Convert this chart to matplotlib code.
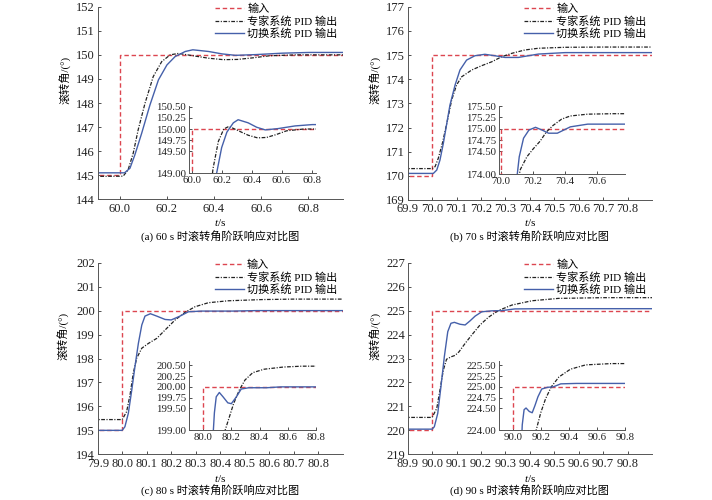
import matplotlib
matplotlib.use("Agg")
import matplotlib.pyplot as plt

plt.rcParams['font.family'] = ['Liberation Serif', 'Noto Sans CJK SC']
plt.rcParams['mathtext.fontset'] = 'custom'
plt.rcParams['mathtext.rm'] = 'Liberation Serif'
plt.rcParams['mathtext.it'] = 'Liberation Serif:italic'
plt.rcParams['axes.unicode_minus'] = False

# ---- data ----
# (a) 60 s
t_in_a = [59.85, 60.0, 60.0, 61.0]
y_in_a = [145.0, 145.0, 150.0, 150.0]
t_ex_a = [59.85, 60.014, 60.035, 60.057, 60.078, 60.107, 60.142, 60.178, 60.214, 60.249,
          60.306, 60.377, 60.44, 60.50, 60.56, 60.634, 60.748, 61.0]
y_ex_a = [144.95, 144.96, 145.22, 145.92, 146.89, 147.99, 149.10, 149.72, 150.0, 150.06,
          149.97, 149.86, 149.80, 149.81, 149.87, 149.96, 150.0, 150.0]
t_sw_a = [59.85, 60.02, 60.043, 60.064, 60.093, 60.128, 60.164, 60.20, 60.235, 60.278,
          60.31, 60.377, 60.434, 60.491, 60.577, 60.69, 60.805, 61.0]
y_sw_a = [145.1, 145.1, 145.29, 145.85, 146.75, 147.92, 148.96, 149.58, 149.93, 150.14,
          150.21, 150.14, 150.04, 149.98, 150.01, 150.07, 150.1, 150.1]

# (b) 70 s
t_in_b = [69.85, 70.0, 70.0, 71.0]
y_in_b = [170.0, 170.0, 175.0, 175.0]
t_ex_b = [69.85, 70.0, 70.012, 70.025, 70.042, 70.06, 70.08, 70.10, 70.121, 70.162,
          70.203, 70.244, 70.285, 70.326, 70.38, 70.435, 70.544, 70.70, 71.0]
y_ex_b = [170.3, 170.3, 170.38, 170.72, 171.35, 172.17, 173.14, 173.76, 174.10, 174.38,
          174.56, 174.72, 174.93, 175.07, 175.21, 175.28, 175.32, 175.33, 175.33]
t_sw_b = [69.85, 70.005, 70.019, 70.032, 70.046, 70.06, 70.073, 70.094, 70.114, 70.141,
          70.175, 70.216, 70.257, 70.298, 70.353, 70.435, 70.544, 71.0]
y_sw_b = [170.1, 170.1, 170.24, 170.65, 171.35, 172.17, 172.93, 173.76, 174.38, 174.79,
          174.97, 175.03, 174.97, 174.90, 174.90, 175.04, 175.1, 175.1]

# (c) 80 s
t_in_c = [79.85, 80.0, 80.0, 81.0]
y_in_c = [195.0, 195.0, 200.0, 200.0]
t_ex_c = [79.85, 80.0, 80.005, 80.018, 80.032, 80.045, 80.059, 80.08, 80.107, 80.141,
          80.175, 80.216, 80.257, 80.297, 80.352, 80.433, 80.569, 80.70, 81.0]
y_ex_c = [195.45, 195.45, 195.54, 195.78, 196.48, 197.38, 198.01, 198.43, 198.63, 198.84,
          199.19, 199.61, 199.93, 200.16, 200.33, 200.41, 200.46, 200.48, 200.48]
t_sw_c = [79.85, 80.0, 80.011, 80.025, 80.039, 80.052, 80.066, 80.08, 80.093, 80.115,
          80.141, 80.175, 80.20, 80.236, 80.27, 80.324, 80.45, 80.55, 81.0]
y_sw_c = [195.0, 195.0, 195.15, 195.71, 196.68, 197.66, 198.63, 199.40, 199.77, 199.87,
          199.77, 199.63, 199.61, 199.77, 199.95, 199.98, 199.98, 200.0, 200.0]

# (d) 90 s
t_in_d = [89.85, 90.0, 90.0, 91.0]
y_in_d = [220.0, 220.0, 225.0, 225.0]
t_ex_d = [89.85, 90.0, 90.005, 90.019, 90.032, 90.046, 90.059, 90.08, 90.094, 90.11,
          90.135, 90.162, 90.196, 90.23, 90.271, 90.326, 90.408, 90.517, 90.70, 91.0]
y_ex_d = [220.54, 220.54, 220.64, 220.92, 221.68, 222.52, 222.97, 223.08, 223.13, 223.28,
          223.63, 223.98, 224.40, 224.72, 225.0, 225.23, 225.41, 225.51, 225.54, 225.54]
t_sw_d = [89.85, 90.0, 90.009, 90.023, 90.036, 90.05, 90.064, 90.077, 90.091, 90.114,
          90.135, 90.155, 90.176, 90.203, 90.244, 90.285, 90.339, 90.45, 91.0]
y_sw_d = [220.05, 220.05, 220.15, 220.71, 221.82, 223.08, 224.12, 224.47, 224.51, 224.43,
          224.40, 224.57, 224.77, 224.95, 224.99, 225.0, 225.07, 225.08, 225.08]

panels = [
    dict(tin=t_in_a, yin=y_in_a, tex=t_ex_a, yex=y_ex_a, tsw=t_sw_a, ysw=y_sw_a,
         xlim=(59.906, 60.948), xt=[60.0, 60.2, 60.4, 60.6, 60.8], ylim=(144, 152),
         ixlim=(59.982, 60.83), ixt=[60.0, 60.2, 60.4, 60.6, 60.8], iylim=(149.0, 150.52),
         iyt=[149.0, 149.5, 149.75, 150.0, 150.25, 150.5],
         cap='(a) 60 s 时滚转角阶跃响应对比图'),
    dict(tin=t_in_b, yin=y_in_b, tex=t_ex_b, yex=y_ex_b, tsw=t_sw_b, ysw=y_sw_b,
         xlim=(69.9, 70.9), xt=[69.9 + 0.1 * i for i in range(10)], ylim=(169, 177),
         ixlim=(69.985, 70.78), ixt=[70.0, 70.2, 70.4, 70.6], iylim=(174.0, 175.5),
         iyt=[174.0, 174.5, 174.75, 175.0, 175.25, 175.5],
         cap='(b) 70 s 时滚转角阶跃响应对比图'),
    dict(tin=t_in_c, yin=y_in_c, tex=t_ex_c, yex=y_ex_c, tsw=t_sw_c, ysw=y_sw_c,
         xlim=(79.9, 80.9), xt=[79.9 + 0.1 * i for i in range(10)], ylim=(194, 202),
         ixlim=(79.9, 80.8), ixt=[80.0, 80.2, 80.4, 80.6, 80.8], iylim=(199.0, 200.6),
         iyt=[199.0, 199.5, 199.75, 200.0, 200.25, 200.5],
         cap='(c) 80 s 时滚转角阶跃响应对比图'),
    dict(tin=t_in_d, yin=y_in_d, tex=t_ex_d, yex=y_ex_d, tsw=t_sw_d, ysw=y_sw_d,
         xlim=(89.9, 90.9), xt=[89.9 + 0.1 * i for i in range(10)], ylim=(219, 227),
         ixlim=(89.9, 90.8), ixt=[90.0, 90.2, 90.4, 90.6, 90.8], iylim=(224.0, 225.6),
         iyt=[224.0, 224.5, 224.75, 225.0, 225.25, 225.5],
         cap='(d) 90 s 时滚转角阶跃响应对比图'),
]

W, H = 712, 500
# main axes boxes in pixels: left, top, right, bottom
main_px = [(97.7, 6.7, 343, 199.3), (407.7, 6.7, 652, 200),
           (97.7, 262.7, 342.7, 454.3), (407.7, 262.7, 652, 454.3)]
inset_px = [(189, 106, 316, 173.3), (498.7, 106, 625.3, 174),
            (189, 361, 316, 430), (499.3, 361, 625.3, 430)]
ylabel_px = [(66, 80), (376, 80), (64, 336), (376, 336)]
xlabel_y = [222, 222, 478, 478]
cap_y = [237, 237, 491, 491]

red = '#dc4650'
blue = '#4560aa'
ls_in = (0, (3.2, 2.0))
ls_ex = (0, (3.0, 1.2, 0.9, 1.2))


def box(p):
    l, t, r, b = p
    return [l / W, 1 - b / H, (r - l) / W, (b - t) / H]


def style(ax, size, xpad=2):
    for s in ['top', 'right']:
        ax.spines[s].set_visible(False)
    for s in ['left', 'bottom']:
        ax.spines[s].set_linewidth(0.7)
        ax.spines[s].set_color('#555555')
    ax.tick_params(direction='in', length=2.5, width=0.6, labelsize=size, pad=2,
                   colors='#333333', labelcolor='#222222')
    ax.tick_params(axis='x', pad=xpad)


fig = plt.figure(figsize=(W / 100, H / 100), dpi=100)

for i, p in enumerate(panels):
    ax = fig.add_axes(box(main_px[i]))
    ax.plot(p['tin'], p['yin'], color=red, lw=1.0, ls=ls_in, label='输入')
    ax.plot(p['tex'], p['yex'], color='#222222', lw=0.9, ls=ls_ex, label='专家系统 PID 输出')
    ax.plot(p['tsw'], p['ysw'], color=blue, lw=1.0, label='切换系统 PID 输出')
    ax.set_xlim(p['xlim'])
    ax.set_ylim(p['ylim'])
    ax.set_xticks(p['xt'])
    ax.set_xticklabels(['%.1f' % v for v in p['xt']])
    ax.set_yticks(range(p['ylim'][0], p['ylim'][1] + 1))
    style(ax, 9, xpad=2.5)
    ax.legend(loc='upper right', bbox_to_anchor=(1.0, 1.045), frameon=False,
              fontsize=8, handlelength=2.6, handletextpad=0.3, labelspacing=0.15,
              borderpad=0.0)

    l, t, r, b = main_px[i]
    cx = (l + r) / 2 / W
    fig.text(cx, 1 - xlabel_y[i] / H, '$t$/s', ha='center', va='center', fontsize=8)
    fig.text(cx, 1 - cap_y[i] / H, p['cap'], ha='center', va='center', fontsize=8)
    yx, yy = ylabel_px[i]
    fig.text(yx / W, 1 - yy / H, '滚转角/(°)', rotation=90, ha='center', va='center',
             fontsize=8)

    ins = fig.add_axes(box(inset_px[i]))
    ins.patch.set_alpha(0)
    ins.plot(p['tin'], p['yin'], color=red, lw=1.0, ls=ls_in)
    ins.plot(p['tex'], p['yex'], color='#222222', lw=0.9, ls=ls_ex)
    ins.plot(p['tsw'], p['ysw'], color=blue, lw=1.0)
    ins.set_xlim(p['ixlim'])
    ins.set_ylim(p['iylim'])
    ins.set_xticks(p['ixt'])
    ins.set_xticklabels(['%.1f' % v for v in p['ixt']])
    ins.set_yticks(p['iyt'])
    ins.set_yticklabels(['%.2f' % v for v in p['iyt']])
    style(ins, 7.8)

fig.savefig('out.png', dpi=100)
